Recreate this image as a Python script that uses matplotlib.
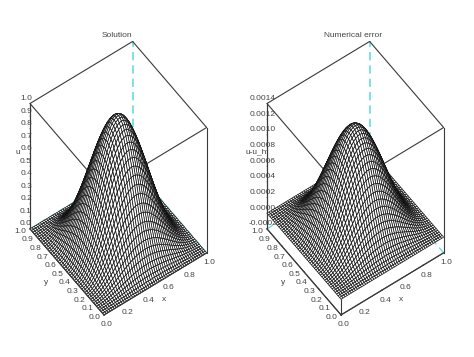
import numpy as np
import matplotlib
matplotlib.use("Agg")
import matplotlib.pyplot as plt
from mpl_toolkits.mplot3d import proj3d

plt.rcParams['font.family'] = ['Liberation Sans', 'DejaVu Sans']

titles = ["Solution", "Numerical error"]
z_labels = ["u", "u-u_h"]
z_label_shift = [-12.5, -11]

# nodal coordinates of the plotted mesh
x_nodes = [0.00, 0.02, 0.04, 0.06, 0.08, 0.10, 0.12, 0.14, 0.16, 0.18,
           0.20, 0.22, 0.24, 0.26, 0.28, 0.30, 0.32, 0.34, 0.36, 0.38,
           0.40, 0.42, 0.44, 0.46, 0.48, 0.50, 0.52, 0.54, 0.56, 0.58,
           0.60, 0.62, 0.64, 0.66, 0.68, 0.70, 0.72, 0.74, 0.76, 0.78,
           0.80, 0.82, 0.84, 0.86, 0.88, 0.90, 0.92, 0.94, 0.96, 0.98, 1.00]

# 1-D section of each surface
solution_section = [0.000, 0.004, 0.016, 0.035, 0.062, 0.095, 0.136, 0.181, 0.232, 0.287,
                    0.345, 0.406, 0.468, 0.531, 0.594, 0.655, 0.713, 0.768, 0.819, 0.864,
                    0.905, 0.938, 0.965, 0.984, 0.996, 1.000, 0.996, 0.984, 0.965, 0.938,
                    0.905, 0.864, 0.819, 0.768, 0.713, 0.655, 0.594, 0.531, 0.468, 0.406,
                    0.345, 0.287, 0.232, 0.181, 0.136, 0.095, 0.062, 0.035, 0.016, 0.004, 0.000]
error_section = [0.000, 0.004, 0.016, 0.035, 0.062, 0.095, 0.136, 0.181, 0.232, 0.287,
                 0.345, 0.406, 0.468, 0.531, 0.594, 0.655, 0.713, 0.768, 0.819, 0.864,
                 0.905, 0.938, 0.965, 0.984, 0.996, 1.000, 0.996, 0.984, 0.965, 0.938,
                 0.905, 0.864, 0.819, 0.768, 0.713, 0.655, 0.594, 0.531, 0.468, 0.406,
                 0.345, 0.287, 0.232, 0.181, 0.136, 0.095, 0.062, 0.035, 0.016, 0.004, 0.000]
solution_peak = 1.0
error_peak = 0.00127

x_ticks = [0.0, 0.2, 0.4, 0.6, 0.8, 1.0]
x_ticklabels = ["0.0", "0.2", "0.4", "0.6", "0.8", "1.0"]
y_ticks = [0.0, 0.1, 0.2, 0.3, 0.4, 0.5, 0.6, 0.7, 0.8, 0.9, 1.0]
y_ticklabels = ["0.0", "0.1", "0.2", "0.3", "0.4", "0.5", "0.6", "0.7", "0.8", "0.9", "1.0"]
z_ticks_list = [[0.0, 0.1, 0.2, 0.3, 0.4, 0.5, 0.6, 0.7, 0.8, 0.9, 1.0],
                [-0.0002, 0.0, 0.0002, 0.0004, 0.0006, 0.0008, 0.0010, 0.0012, 0.0014]]
z_ticklabels_list = [["0.0", "0.1", "0.2", "0.3", "0.4", "0.5", "0.6", "0.7", "0.8", "0.9", "1.0"],
                     ["-0.0002", "0.0000", "0.0002", "0.0004", "0.0006", "0.0008", "0.0010", "0.0012", "0.0014"]]
z_ranges = [(0.0, 1.0), (-0.0002, 0.0014)]

x = np.array(x_nodes)
X, Y = np.meshgrid(x, x)
surfaces = [solution_peak * np.outer(solution_section, solution_section),
            error_peak * np.outer(error_section, error_section)]

W, H = 474, 357
fig = plt.figure(figsize=(W / 100, H / 100), dpi=100, facecolor="white")
panel_left = [-1.0, 236.0]
TC = "#444444"
EDGE = "#3a3a3a"
CYAN = "#66dede"


def label3d(ax, xv, yv, zv, text, dx, dy, zorder=5):
    px, py, _ = proj3d.proj_transform(xv, yv, zv, ax.get_proj())
    ax.annotate(text, xy=(px, py), xycoords="data", xytext=(dx, dy),
                textcoords="offset pixels", fontsize=6, color=TC,
                ha="center", va="center", zorder=zorder, annotation_clip=False)


for i in range(2):
    size = 283
    cx = panel_left[i] + 115.5
    cy = H - 182
    ax = fig.add_axes([(cx - size / 2) / W, (cy - size / 2) / H, size / W, size / H],
                      projection="3d", computed_zorder=False)
    ax.set_proj_type("ortho")
    ax.view_init(elev=57, azim=-125.8)
    ax.set_box_aspect((127, 127, 231), zoom=1.0)
    ax.patch.set_alpha(0)
    z0, z1 = z_ranges[i]
    ax.set_xlim(0, 1)
    ax.set_ylim(0, 1)
    ax.set_zlim(z0, z1)

    for a in (ax.xaxis, ax.yaxis, ax.zaxis):
        a.set_pane_color((1, 1, 1, 0))
        a._axinfo["grid"]["linewidth"] = 0
        a._axinfo["grid"]["color"] = (1, 1, 1, 0)
        a.line.set_color(EDGE)
        a.line.set_linewidth(0.8)
        a._axinfo["tick"]["outward_factor"] = 0.03
        a._axinfo["tick"]["inward_factor"] = 0.0
        a._axinfo["tick"]["linewidth"] = {True: 0.5, False: 0.5}
        a._axinfo["tick"]["color"] = EDGE
    ax.set_xticks(x_ticks)
    ax.set_yticks(y_ticks)
    ax.set_zticks(z_ticks_list[i])
    ax.set_xticklabels([])
    ax.set_yticklabels([])
    ax.set_zticklabels([])

    # hidden edges behind the surface
    ax.plot([1, 1], [1, 1], [z0, z1], color=CYAN, lw=1.2, ls=(0, (5, 3)), zorder=1)
    ax.plot([1, 1], [0, 1], [z0, z0], color=CYAN, lw=1.0, ls=(0, (5, 3)), zorder=1)
    ax.plot([0, 1], [1, 1], [z0, z0], color=CYAN, lw=1.0, ls=(0, (5, 3)), zorder=1)
    # top face
    ax.plot([0, 1, 1, 0, 0], [0, 0, 1, 1, 0], [z1] * 5, color=EDGE, lw=0.8, zorder=1)

    ax.plot_surface(X, Y, surfaces[i], rstride=1, cstride=1, color="white",
                    edgecolor="#111111", linewidth=0.5, shade=False, zorder=2,
                    antialiased=True)

    # visible edges
    ax.plot([1, 1], [0, 0], [z0, z1], color=EDGE, lw=0.8, zorder=3)
    ax.plot([0, 0], [1, 1], [z0, z1], color=EDGE, lw=0.8, zorder=3)
    ax.plot([0, 0], [0, 0], [z0, 0], color=EDGE, lw=0.8, zorder=3)
    ax.plot([0, 1], [0, 0], [z0, z0], color=EDGE, lw=0.8, zorder=3)
    ax.plot([0, 0], [0, 1], [z0, z0], color=EDGE, lw=0.8, zorder=3)

    for v, t in zip(x_ticks, x_ticklabels):
        label3d(ax, v, 0, z0, t, 3, -10)
    for v, t in zip(y_ticks, y_ticklabels):
        label3d(ax, 0, v, z0, t, -9.5, -2.5)
    for v, t in zip(z_ticks_list[i], z_ticklabels_list[i]):
        label3d(ax, 0, 1, v, t, -4, 5, zorder=1.5)
    zmid = 0.5 * (z0 + z1)
    label3d(ax, 0.5, 0, z0, "x", 9, -16)
    label3d(ax, 0, 0.5, z0, "y", -20.5, -11)
    label3d(ax, 0, 1, zmid, z_labels[i], z_label_shift[i], 14)

    fig.text((panel_left[i] + 118 + (0 if i == 0 else -1)) / W, 1 - 35.5 / H, titles[i],
             fontsize=6, color=TC, ha="center", va="center")

fig.savefig("out.png", dpi=100, facecolor="white")
